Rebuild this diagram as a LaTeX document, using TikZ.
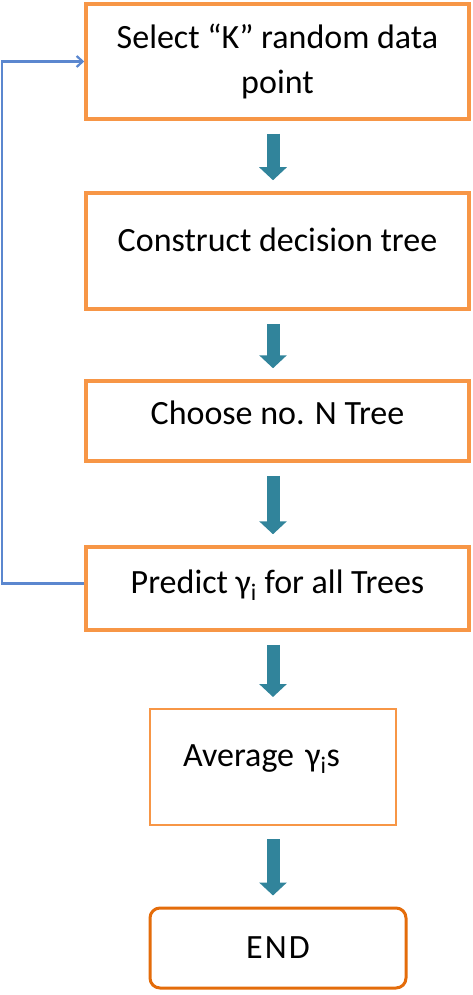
\documentclass[tikz,border=0pt]{standalone}
\usepackage{fontspec}
\setmainfont{Carlito}
\usetikzlibrary{arrows.meta}
\definecolor{boxorange}{HTML}{F79646}
\definecolor{endorange}{HTML}{E46C0A}
\definecolor{flowteal}{HTML}{31849B}
\definecolor{loopblue}{HTML}{5B87CF}
\begin{document}
\begin{tikzpicture}[x=1pt, y=-1pt, every node/.style={font=\fontsize{34}{45}\selectfont},
  stage/.style={draw=boxorange, line width=3.5pt, minimum width=383pt, inner xsep=0pt, align=center},
  lift/.style={text height=24pt, text depth=#1},
  flow/.style={flowteal, line width=13pt, -{Triangle[width=27pt,length=13pt]}, shorten <=13pt, shorten >=11pt}]
\useasboundingbox (0,0) rectangle (473,995);
% Steps
\node[stage, minimum height=115pt] (select) at (277.5,61.5) {Select “K” random data\\point};
\node[stage, minimum height=116pt, lift=24pt] (construct) at (277.5,251) {Construct decision tree};
\node[stage, minimum height=80pt, lift=18pt] (choose) at (277.5,421) {Choose no. N Tree};
\node[stage, minimum height=83pt, lift=15pt] (predict) at (277.5,588.5) {Predict γ\textsubscript{i} for all Trees};
\node[stage, line width=2pt, minimum width=0pt, text width=180pt, inner xsep=33pt, align=left, minimum height=116pt, lift=26pt] (average) at (273,767) {Average γ\textsubscript{i}s};
\node[draw=endorange, line width=3pt, rounded corners=10pt, minimum width=256pt, minimum height=80pt] (finish) at (278,948) {\addfontfeature{LetterSpace=6}END};
% Down arrows
\foreach \a/\b in {select/construct, construct/choose, choose/predict, predict/average, average/finish}
  \draw[flow] (\a.south -| average.center) -- (\b.north -| average.center);
% Loop back
\draw[loopblue, line width=2.2pt, -{Straight Barb[length=6pt,width=11pt]}] ([yshift=5pt]predict.west) -- ++(-82,0) |- (select.west);
\end{tikzpicture}
\end{document}
